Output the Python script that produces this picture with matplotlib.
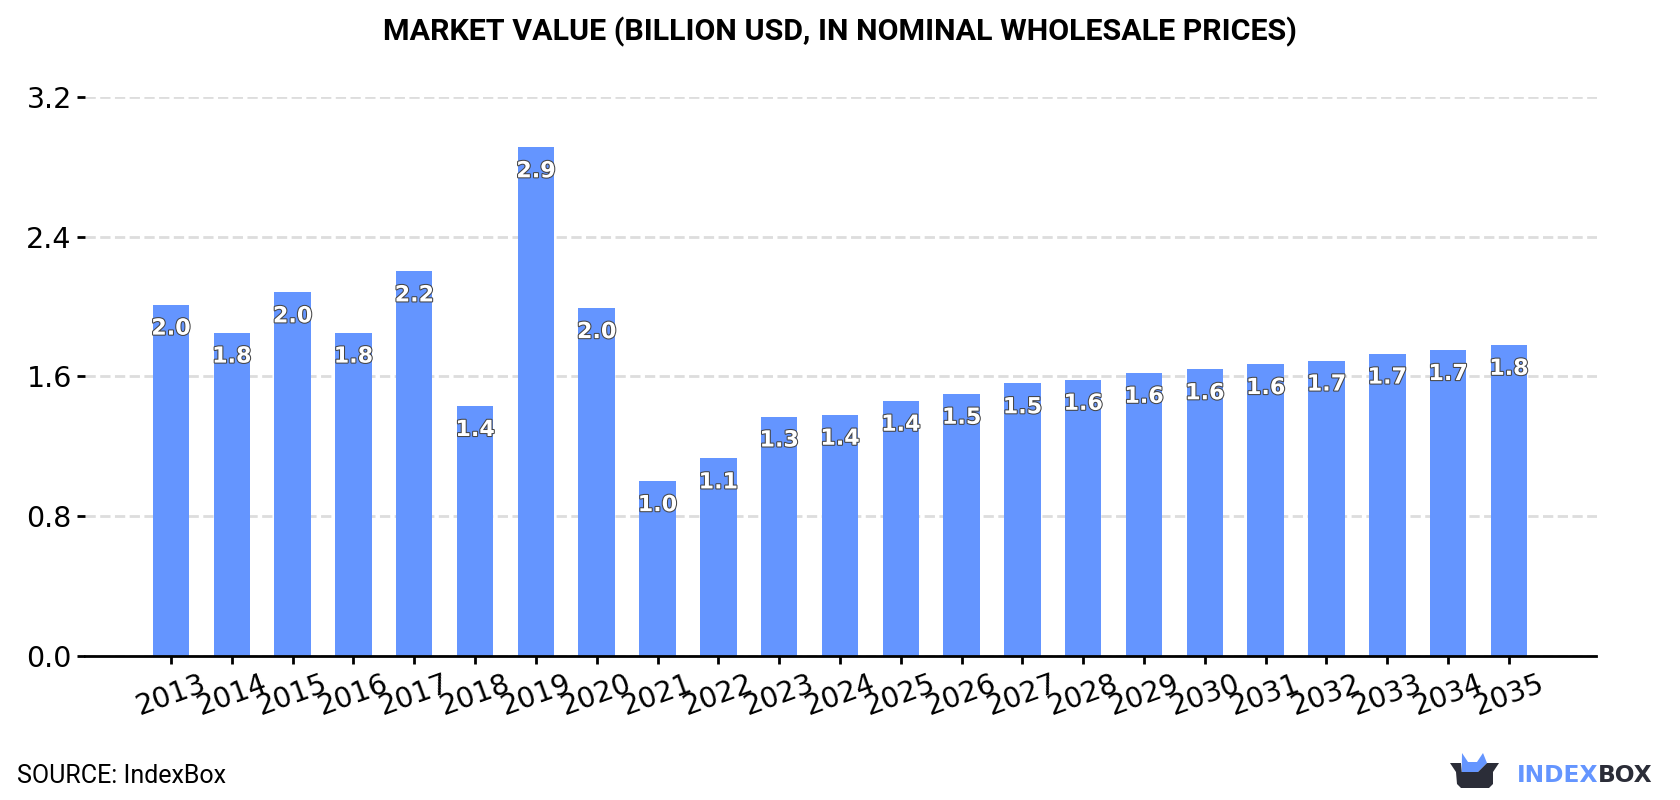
import matplotlib
matplotlib.use('Agg')

import matplotlib.pyplot as plt
import matplotlib.patheffects as pe
from matplotlib.patches import Polygon

years = [2013, 2014, 2015, 2016, 2017, 2018, 2019, 2020, 2021, 2022, 2023, 2024,
         2025, 2026, 2027, 2028, 2029, 2030, 2031, 2032, 2033, 2034, 2035]
market_value = [2.01, 1.85, 2.08, 1.85, 2.20, 1.43, 2.91, 1.99, 1.00, 1.13, 1.37, 1.38,
                1.46, 1.50, 1.56, 1.58, 1.62, 1.64, 1.67, 1.69, 1.73, 1.75, 1.78]
value_labels = ['2.0', '1.8', '2.0', '1.8', '2.2', '1.4', '2.9', '2.0', '1.0', '1.1', '1.3', '1.4',
                '1.4', '1.5', '1.5', '1.6', '1.6', '1.6', '1.6', '1.7', '1.7', '1.7', '1.8']
y_ticks = [0.0, 0.8, 1.6, 2.4, 3.2]

BLUE = '#6495ff'
DARK = '#2b2d38'

fig = plt.figure(figsize=(16.8, 8), dpi=100)
ax = fig.add_axes([85 / 1680, 1 - 656 / 800, (1596.5 - 85) / 1680, (656 - 96.7) / 800])

ax.bar(years, market_value, width=0.6, color=BLUE, zorder=2)

for x, v, label in zip(years, market_value, value_labels):
    ax.text(x, v - 0.137, label, ha='center', va='center', fontsize=16, fontweight='bold',
            color='white', zorder=3,
            path_effects=[pe.withStroke(linewidth=1.5, foreground='#444444')])

ax.set_xlim(2011.586, 2036.44)
ax.set_ylim(0, 3.2)
ax.set_yticks(y_ticks)
ax.set_yticklabels([f'{t:.1f}' for t in y_ticks])
ax.set_xticks(years)
ax.set_xticklabels(years, rotation=20)
ax.tick_params(axis='both', labelsize=20.5, width=2, length=6, color='black')
ax.tick_params(axis='x', pad=4)
ax.grid(axis='y', color='#dddddd', linestyle='--', linewidth=2, zorder=0)
ax.set_axisbelow(True)

for side in ['top', 'right', 'left']:
    ax.spines[side].set_visible(False)
ax.spines['bottom'].set_linewidth(2)

fig.text(0.5, 1 - 32 / 800, 'MARKET VALUE (BILLION USD, IN NOMINAL WHOLESALE PRICES)',
         ha='center', va='center', family='Roboto', fontweight='bold', fontsize=21.9)
fig.text(17 / 1680, 1 - 776 / 800, 'SOURCE: IndexBox', ha='left', va='center',
         family='Roboto', fontsize=18)

# logo in figure pixels
logo = fig.add_axes([0, 0, 1, 1], facecolor='none')
logo.set_xlim(0, 1680)
logo.set_ylim(800, 0)
logo.axis('off')
logo.add_patch(Polygon([(1461.7, 772), (1462, 753), (1468, 762), (1477, 762), (1483, 753),
                        (1487, 763), (1478, 772)], color=BLUE, lw=0))
logo.add_patch(Polygon([(1450, 763), (1461, 763), (1461.7, 772), (1478, 772), (1487, 763),
                        (1499, 763), (1493, 772), (1493, 784), (1489, 788), (1461, 788),
                        (1457, 784), (1456, 772)], color=DARK, lw=0))
logo.text(1517, 775, 'INDEX', color=BLUE, fontweight='bold', fontsize=16.8,
          ha='left', va='center')
logo.text(1598, 775, 'BOX', color=DARK, fontweight='bold', fontsize=16.8,
          ha='left', va='center')

fig.savefig('out.png', dpi=100)
